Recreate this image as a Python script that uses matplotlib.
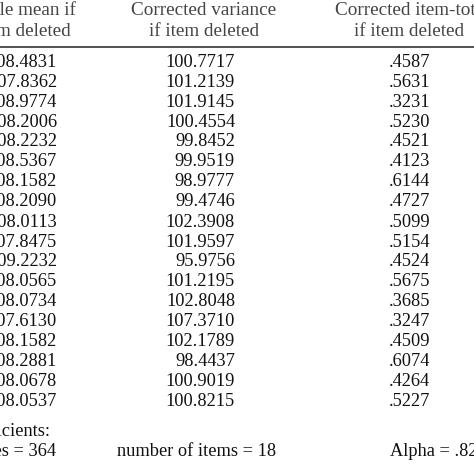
import matplotlib.pyplot as plt

scale_mean = ["108.4831", "107.8362", "108.9774", "108.2006", "108.2232", "108.5367",
              "108.1582", "108.2090", "108.0113", "107.8475", "109.2232", "108.0565",
              "108.0734", "107.6130", "108.1582", "108.2881", "108.0678", "108.0537"]
corr_var = ["100.7717", "101.2139", "101.9145", "100.4554", "99.8452", "99.9519",
            "98.9777", "99.4746", "102.3908", "101.9597", "95.9756", "101.2195",
            "102.8048", "107.3710", "102.1789", "98.4437", "100.9019", "100.8215"]
item_total = [".4587", ".5631", ".3231", ".5230", ".4521", ".4123", ".6144", ".4727",
              ".5099", ".5154", ".4524", ".5675", ".3685", ".3247", ".4509", ".6074",
              ".4264", ".5227"]

plt.rcParams['font.family'] = ['Liberation Serif', 'DejaVu Serif']
fig = plt.figure(figsize=(4.74, 4.74), dpi=100)
ax = fig.add_axes([0, 0, 1, 1])
ax.set_xlim(0, 474)
ax.set_ylim(474, 0)
ax.axis('off')

fs = 13.2
hc = '#444'
# headers
ax.text(24, 10, "Scale mean if", ha='center', va='center', fontsize=fs + 0.6, color=hc)
ax.text(24, 31, "item deleted", ha='center', va='center', fontsize=fs + 0.6, color=hc)
ax.text(204, 10, "Corrected variance", ha='center', va='center', fontsize=fs + 0.6, color=hc)
ax.text(204, 31, "if item deleted", ha='center', va='center', fontsize=fs + 0.6, color=hc)
ax.text(412, 10, "Corrected item-total", ha='center', va='center', fontsize=fs + 0.6, color=hc)
ax.text(409, 31, "if item deleted", ha='center', va='center', fontsize=fs + 0.6, color=hc)
ax.plot([0, 474], [47, 47], color='#333', lw=1.2)

for i in range(len(scale_mean)):
    y = 62 + i * 20
    ax.text(57, y, scale_mean[i], ha='right', va='center', fontsize=fs, color='#111')
    ax.text(235, y, corr_var[i], ha='right', va='center', fontsize=fs, color='#111')
    ax.text(430, y, item_total[i], ha='right', va='center', fontsize=fs, color='#111')

ax.text(50, 431, "Reliability coefficients:", ha='right', va='center', fontsize=fs, color='#111')
ax.text(56, 452, "N of Cases = 364", ha='right', va='center', fontsize=fs, color='#111')
ax.text(117, 452, "number of items = 18", ha='left', va='center', fontsize=fs, color='#111')
ax.text(390, 452, "Alpha = .8256", ha='left', va='center', fontsize=fs, color='#111')

fig.savefig("out.png", dpi=100)
